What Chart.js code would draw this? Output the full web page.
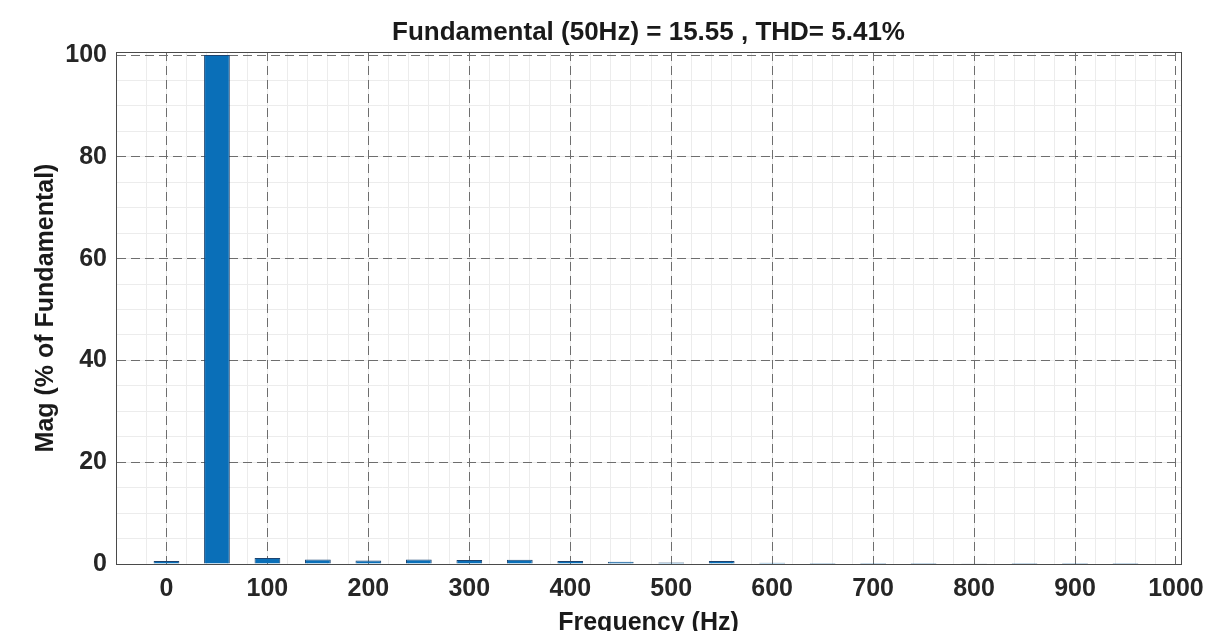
<!DOCTYPE html>
<html>
<head>
<meta charset="utf-8">
<script src="https://cdn.jsdelivr.net/npm/chart.js@4/dist/chart.umd.min.js"></script>
<style>
  html, body { margin: 0; padding: 0; background: #ffffff; }
  #wrap { width: 1217px; height: 631px; position: relative; }
</style>
</head>
<body>
<div id="wrap"><canvas id="c" width="1217" height="631"></canvas></div>
<script>
// Harmonic frequencies (Hz)
const frequencies = [0, 50, 100, 150, 200, 250, 300, 350, 400, 450, 500, 550, 600, 650, 700, 750, 800, 850, 900, 950];
// Magnitudes (% of fundamental)
const magnitudes = [0.6, 100, 1.2, 0.9, 0.7, 0.9, 0.8, 0.85, 0.6, 0.45, 0.3, 0.6, 0.25, 0.2, 0.2, 0.2, 0.05, 0.2, 0.2, 0.2];
// Tick labels
const xTicks = [0, 100, 200, 300, 400, 500, 600, 700, 800, 900, 1000];
const yTicks = [0, 20, 40, 60, 80, 100];
const titleText = 'Fundamental (50Hz) = 15.55 , THD= 5.41%';
const xTitle = 'Frequency (Hz)';
const yTitle = 'Mag (% of Fundamental)';

const FONT = "'Liberation Sans', Arial, Helvetica, sans-serif";
const X_MIN = -50, X_MAX = 1005, Y_MIN = 0, Y_MAX = 100.6;

const boxPlugin = {
  id: 'boxPlugin',
  afterDatasetsDraw(chart) {
    const a = chart.chartArea, ctx = chart.ctx;
    ctx.save();
    ctx.strokeStyle = '#4a4a4a';
    ctx.lineWidth = 1;
    ctx.strokeRect(Math.round(a.left) + 0.5, Math.round(a.top) + 0.5, Math.round(a.right - a.left), Math.round(a.bottom - a.top));
    ctx.restore();
  }
};

new Chart(document.getElementById('c'), {
  type: 'bar',
  data: {
    datasets: [{
      data: frequencies.map((f, i) => ({ x: f, y: magnitudes[i] })),
      backgroundColor: '#0a6fb8',
      borderColor: '#1d4470',
      borderWidth: 1,
      barPercentage: 0.51,
      categoryPercentage: 1.0,
      xAxisID: 'x',
      yAxisID: 'y'
    }]
  },
  plugins: [boxPlugin],
  options: {
    responsive: false,
    animation: false,
    devicePixelRatio: 1,
    layout: { padding: { left: 0, top: 0, bottom: 0, right: 36 } },
    plugins: {
      legend: { display: false },
      tooltip: { enabled: false },
      title: { display: false }
    },
    scales: {
      xMinor: {
        type: 'linear', position: 'bottom', min: X_MIN, max: X_MAX, offset: false,
        ticks: { display: false, stepSize: 20 },
        grid: { color: '#ececec', lineWidth: 1, drawTicks: false, offset: false },
        border: { display: false },
        afterFit(s) { s.height = 0; }
      },
      yMinor: {
        type: 'linear', position: 'left', min: Y_MIN, max: Y_MAX,
        ticks: { display: false, stepSize: 5 },
        grid: { color: '#ececec', lineWidth: 1, drawTicks: false },
        border: { display: false },
        afterFit(s) { s.width = 0; }
      },
      xTop: {
        type: 'linear', position: 'top', min: X_MIN, max: X_MAX, offset: false,
        ticks: { display: false },
        grid: { display: false, drawTicks: false },
        border: { display: false },
        title: {
          display: true, text: titleText, color: '#1a1a1a',
          font: { family: FONT, size: 26, weight: 'bold', lineHeight: 1.2 },
          padding: { top: 17, bottom: 0 }
        },
        afterFit(s) { s.height = 52; }
      },
      x: {
        type: 'linear', position: 'bottom', min: X_MIN, max: X_MAX, offset: false,
        afterBuildTicks(s) { s.ticks = xTicks.map(v => ({ value: v })); },
        ticks: {
          color: '#262626', padding: 10, maxRotation: 0, autoSkip: false,
          font: { family: FONT, size: 25, weight: 'bold', lineHeight: 1.2 },
          callback: v => String(v)
        },
        grid: { color: '#6e6e6e', lineWidth: 1, drawTicks: false, offset: false },
        border: { display: true, color: '#4a4a4a', dash: [9, 5] },
        title: {
          display: true, text: xTitle, color: '#1a1a1a',
          font: { family: FONT, size: 25, weight: 'bold', lineHeight: 1.2 },
          padding: { top: 0, bottom: -7 }
        },
        afterFit(s) { s.height = 67; }
      },
      y: {
        type: 'linear', position: 'left', min: Y_MIN, max: Y_MAX,
        afterBuildTicks(s) { s.ticks = yTicks.map(v => ({ value: v })); },
        ticks: {
          color: '#262626', padding: 9,
          font: { family: FONT, size: 25, weight: 'bold', lineHeight: 1.2 },
          callback: v => String(v)
        },
        grid: { color: '#6e6e6e', lineWidth: 1, drawTicks: false },
        border: { display: true, color: '#4a4a4a', dash: [9, 5] },
        title: {
          display: true, text: yTitle, color: '#1a1a1a',
          font: { family: FONT, size: 25, weight: 'bold', lineHeight: 1.2 },
          padding: { top: 31, bottom: 0 }
        },
        afterFit(s) { s.width = 116; }
      }
    }
  }
});
</script>
</body>
</html>
